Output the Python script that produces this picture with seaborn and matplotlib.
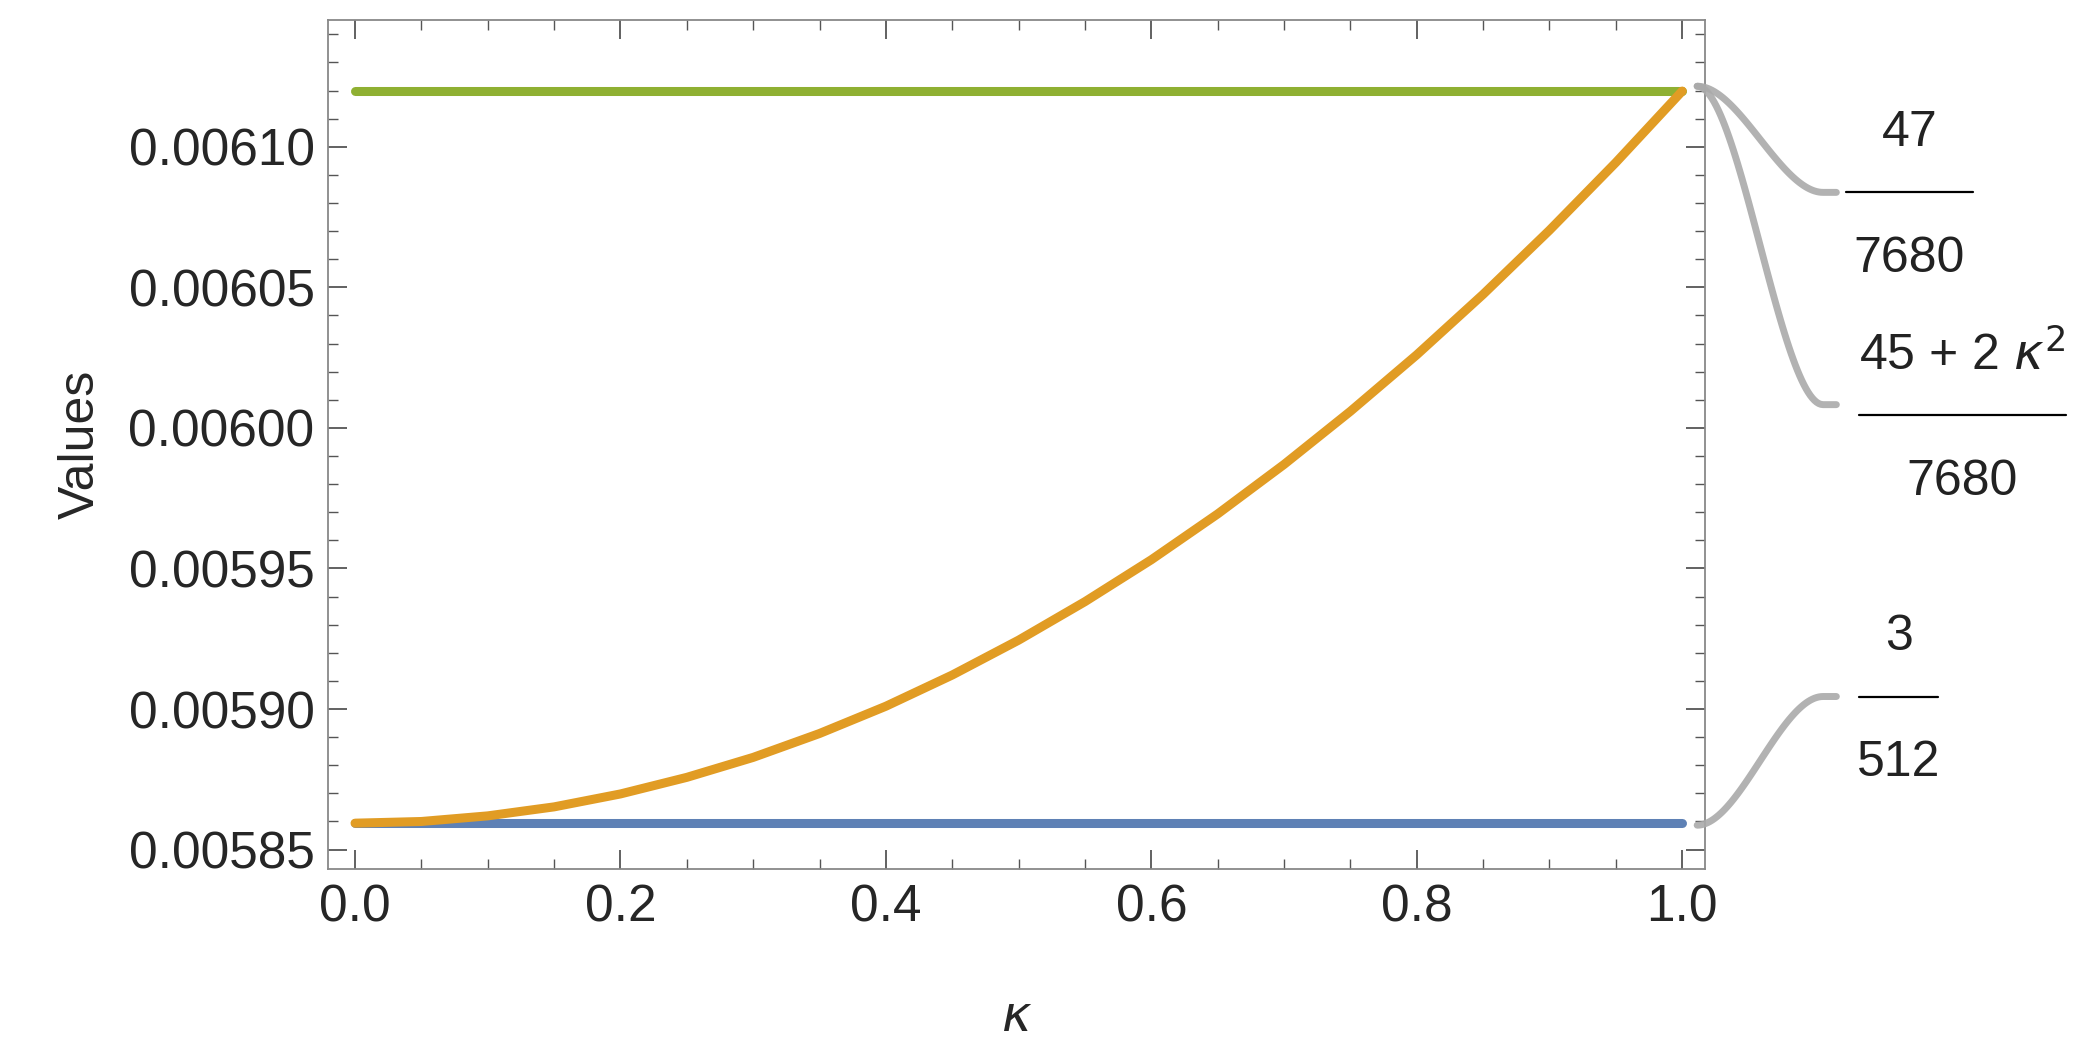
import numpy as np
import pandas as pd
import seaborn as sns
import matplotlib.pyplot as plt
from matplotlib.ticker import MultipleLocator

# values
kappa = [0.0, 0.05, 0.1, 0.15, 0.2, 0.25, 0.3, 0.35, 0.4, 0.45, 0.5,
         0.55, 0.6, 0.65, 0.7, 0.75, 0.8, 0.85, 0.9, 0.95, 1.0]
middle = [0.0058594, 0.0058600, 0.0058620, 0.0058652, 0.0058698, 0.0058757,
          0.0058828, 0.0058913, 0.0059010, 0.0059121, 0.0059245, 0.0059382,
          0.0059531, 0.0059694, 0.0059870, 0.0060059, 0.0060260, 0.0060475,
          0.0060703, 0.0060944, 0.0061198]
upper = [0.0061198] * len(kappa)
lower = [0.0058594] * len(kappa)
labels_num = ["47", r"45 + 2 $\kappa^2$", "3"]
labels_den = ["7680", "7680", "512"]

n = len(kappa)
d = pd.DataFrame({"kappa": kappa * 3,
                  "value": lower + middle + upper,
                  "series": ["lower"] * n + ["middle"] * n + ["upper"] * n})

sns.set_style("white")
plt.rcParams["font.family"] = ["Liberation Sans", "DejaVu Sans"]

fig = plt.figure(figsize=(20.79, 10.64), dpi=100)
ax = fig.add_axes([0.158, 0.183, 0.662, 0.798])
sns.lineplot(data=d, x="kappa", y="value", hue="series",
             palette={"lower": "#5E81B5", "middle": "#E19C24", "upper": "#8FB032"},
             hue_order=["lower", "upper", "middle"],
             lw=6.5, legend=False, ax=ax)
ax.set_xlim(-0.02, 1.017)
ax.set_ylim(0.005843, 0.006145)
ax.xaxis.set_major_locator(MultipleLocator(0.2))
ax.xaxis.set_minor_locator(MultipleLocator(0.05))
ax.yaxis.set_major_locator(MultipleLocator(0.00005))
ax.yaxis.set_minor_locator(MultipleLocator(0.00001))
ax.xaxis.set_major_formatter(plt.FuncFormatter(lambda v, p: f"{v:.1f}"))
ax.yaxis.set_major_formatter(plt.FuncFormatter(lambda v, p: f"{v:.5f}"))
ax.tick_params(which="both", direction="in", top=True, right=True,
               left=True, bottom=True, color="#555555")
ax.tick_params(which="major", length=14, width=1.3, labelsize=37, pad=10)
ax.tick_params(which="minor", length=7, width=1)
for s in ax.spines.values():
    s.set_color("#888888")
    s.set_linewidth(1.3)
ax.set_xlabel(r"$\kappa$", fontsize=36, labelpad=45)
ax.set_ylabel("Values", fontsize=36, labelpad=18)


def fc(x, y):
    return x / 1568, 1 - y / 802


# callout connectors and fraction labels (reference pixel layout)
callouts = [((1280, 65), (1375, 145), 1440, 48),
            ((1280, 65), (1375, 305), 1480, 78),
            ((1280, 622), (1375, 525), 1432, 30)]
t = np.linspace(0, 1, 60)
for (start, end, cx, hw), num, den in zip(callouts, labels_num, labels_den):
    s = t * t * (3 - 2 * t)
    xs = start[0] + (end[0] - start[0]) * t
    ys = start[1] + (end[1] - start[1]) * s
    xs = np.concatenate([xs, [end[0] + 10]])
    ys = np.concatenate([ys, [end[1]]])
    fx, fy = zip(*[fc(a, b) for a, b in zip(xs, ys)])
    fig.add_artist(plt.Line2D(fx, fy, color="#AAAAAA", lw=5, alpha=0.9))
    by_px = end[1] + (8 if num.startswith("45") else 0)
    bx0, by = fc(cx - hw, by_px)
    bx1, _ = fc(cx + hw, by_px)
    fig.add_artist(plt.Line2D([bx0, bx1], [by, by], color="black", lw=1.6))
    fig.text(*fc(cx, by_px - 45), num, fontsize=36, ha="center", va="center",
             color="#222222")
    fig.text(*fc(cx, by_px + 50), den, fontsize=36, ha="center", va="center",
             color="#222222")

fig.savefig("out.png", dpi=100)
